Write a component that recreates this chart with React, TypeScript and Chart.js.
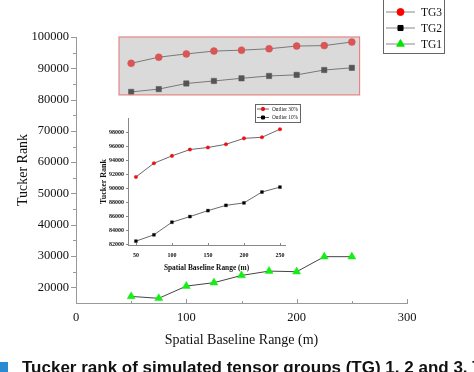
import React, { useEffect, useRef } from 'react';
import { Chart, registerables } from 'chart.js';
import { drawPoint } from 'chart.js/helpers';

Chart.register(...registerables);

const FONT = "'Liberation Serif', 'Times New Roman', serif";

// Data
const spatialRange = [50, 75, 100, 125, 150, 175, 200, 225, 250];
const tg3Values = [91600, 93550, 94600, 95500, 95800, 96250, 97100, 97250, 98400];
const tg2Values = [82450, 83350, 85150, 85950, 86800, 87550, 87900, 89450, 90150];
const tg1Values = [17100, 16500, 20400, 21500, 23800, 25200, 25000, 29800, 29800];

const seriesLabels = ['TG3', 'TG2', 'TG1'];
const insetLabels = ['Outlier 30%', 'Outlier 10%'];

const mainXTicks = [0, 100, 200, 300];
const mainXMinor = [50, 150, 250];
const mainYTicks = [20000, 30000, 40000, 50000, 60000, 70000, 80000, 90000, 100000];
const mainYMinor = [25000, 35000, 45000, 55000, 65000, 75000, 85000, 95000];
const insetXTicks = [50, 100, 150, 200, 250];
const insetYTicks = [82000, 84000, 86000, 88000, 90000, 92000, 94000, 96000, 98000];

const zoomRangeX = [39, 257];
const zoomRangeY = [81500, 100000];
const insetRangeY = [81900, 100000];

const xTitle = 'Spatial Baseline Range (m)';
const yTitle = 'Tucker Rank';
const captionText = 'Tucker rank of simulated tensor groups (TG) 1, 2 and 3. T';

const toPoints = (vals: number[]) => spatialRange.map((x, i) => ({ x, y: vals[i] }));
const plainLabel = (v: any) => String(v);

type Marker = { style: string; radius: number; color: string };

function drawLegendBox(
  ctx: CanvasRenderingContext2D,
  box: [number, number, number, number],
  items: { label: string; marker: Marker }[],
  rows: number[],
  lineX: [number, number],
  textX: number,
  fontSize: number,
  lineColor: string
) {
  ctx.save();
  ctx.fillStyle = '#ffffff';
  ctx.fillRect(box[0], box[1], box[2], box[3]);
  ctx.strokeStyle = '#666666';
  ctx.lineWidth = 1;
  ctx.strokeRect(box[0] + 0.5, box[1] + 0.5, box[2], box[3]);
  items.forEach((it, i) => {
    const y = rows[i];
    ctx.strokeStyle = lineColor;
    ctx.lineWidth = 1;
    ctx.beginPath();
    ctx.moveTo(lineX[0], y);
    ctx.lineTo(lineX[1], y);
    ctx.stroke();
    ctx.fillStyle = it.marker.color;
    ctx.strokeStyle = it.marker.color;
    drawPoint(ctx, { pointStyle: it.marker.style as any, radius: it.marker.radius, rotation: 0, borderWidth: 0.5 } as any, (lineX[0] + lineX[1]) / 2, y);
    ctx.fillStyle = '#111111';
    ctx.font = `${fontSize}px ${FONT}`;
    ctx.textBaseline = 'middle';
    ctx.textAlign = 'left';
    ctx.fillText(it.label, textX, y + 0.5);
  });
  ctx.restore();
}

function drawTickMarks(
  ctx: CanvasRenderingContext2D,
  chart: any,
  cfg: { xMajor: number[]; xMinor: number[]; yMajor: number[]; yMinor: number[]; xLen: number[]; yLen: number[]; color: string }
) {
  const { x, y } = chart.scales;
  const area = chart.chartArea;
  ctx.save();
  ctx.strokeStyle = cfg.color;
  ctx.lineWidth = 1;
  ctx.beginPath();
  cfg.xMajor.forEach((v) => {
    const px = Math.round(x.getPixelForValue(v)) + 0.5;
    ctx.moveTo(px, area.bottom);
    ctx.lineTo(px, area.bottom - cfg.xLen[0]);
  });
  cfg.xMinor.forEach((v) => {
    const px = Math.round(x.getPixelForValue(v)) + 0.5;
    ctx.moveTo(px, area.bottom);
    ctx.lineTo(px, area.bottom - cfg.xLen[1]);
  });
  cfg.yMajor.forEach((v) => {
    const py = Math.round(y.getPixelForValue(v)) + 0.5;
    ctx.moveTo(area.left, py);
    ctx.lineTo(area.left - cfg.yLen[0], py);
  });
  cfg.yMinor.forEach((v) => {
    const py = Math.round(y.getPixelForValue(v)) + 0.5;
    ctx.moveTo(area.left, py);
    ctx.lineTo(area.left - cfg.yLen[1], py);
  });
  ctx.stroke();
  ctx.restore();
}

export default function App() {
  const mainRef = useRef<HTMLCanvasElement>(null);
  const insetRef = useRef<HTMLCanvasElement>(null);

  useEffect(() => {
    const mainDecor = {
      id: 'mainDecor',
      afterDatasetsDraw(chart: any) {
        const { ctx, scales } = chart;
        const { x, y } = scales;
        const l = x.getPixelForValue(zoomRangeX[0]);
        const r = x.getPixelForValue(zoomRangeX[1]);
        const t = y.getPixelForValue(zoomRangeY[1]);
        const b = y.getPixelForValue(zoomRangeY[0]);
        ctx.save();
        ctx.fillStyle = 'rgba(177,177,177,0.48)';
        ctx.fillRect(l, t, r - l, b - t);
        ctx.strokeStyle = '#e38585';
        ctx.lineWidth = 1.2;
        ctx.strokeRect(l, t, r - l, b - t);
        ctx.restore();
      },
      afterDraw(chart: any) {
        const ctx = chart.ctx;
        drawTickMarks(ctx, chart, {
          xMajor: mainXTicks, xMinor: mainXMinor, yMajor: mainYTicks, yMinor: mainYMinor,
          xLen: [4, 2], yLen: [5, 3], color: '#999999',
        });
        drawLegendBox(
          ctx,
          [383, -1, 61, 54],
          [
            { label: seriesLabels[0], marker: { style: 'circle', radius: 3.5, color: '#ff0000' } },
            { label: seriesLabels[1], marker: { style: 'rect', radius: 3.6, color: '#000000' } },
            { label: seriesLabels[2], marker: { style: 'triangle', radius: 4.4, color: '#00e600' } },
          ],
          [12, 28, 44],
          [386, 415],
          421,
          11.5,
          '#888888'
        );
      },
    };

    const mainChart = new Chart(mainRef.current as HTMLCanvasElement, {
      type: 'line',
      data: {
        datasets: [
          {
            label: seriesLabels[0], data: toPoints(tg3Values), borderColor: '#444444', borderWidth: 1,
            pointStyle: 'circle', pointRadius: 3.5, pointBackgroundColor: '#ff0000', pointBorderColor: '#ff0000', pointBorderWidth: 0.5,
          },
          {
            label: seriesLabels[1], data: toPoints(tg2Values), borderColor: '#444444', borderWidth: 1,
            pointStyle: 'rect', pointRadius: 3.8, pointBackgroundColor: '#000000', pointBorderColor: '#000000', pointBorderWidth: 0.5,
          },
          {
            label: seriesLabels[2], data: toPoints(tg1Values), borderColor: '#444444', borderWidth: 1,
            pointStyle: 'triangle', pointRadius: 4.6, pointBackgroundColor: '#14ee14', pointBorderColor: '#14ee14', pointBorderWidth: 0.5,
          },
        ],
      },
      options: {
        animation: false,
        responsive: false,
        layout: { padding: { top: 37, right: 67, left: 0, bottom: 0 } },
        plugins: { legend: { display: false }, tooltip: { enabled: false } },
        scales: {
          x: {
            type: 'linear', min: 0, max: 300,
            afterBuildTicks: (s: any) => { s.ticks = mainXTicks.map((v) => ({ value: v })); },
            afterFit: (s: any) => { s.height = 69; },
            grid: { display: false, drawTicks: false },
            border: { display: true, color: '#999999', width: 1 },
            ticks: { padding: 7, color: '#111111', font: { family: FONT, size: 12.5 }, maxRotation: 0, callback: plainLabel },
            title: { display: true, text: xTitle, color: '#111111', font: { family: FONT, size: 14 }, padding: { top: 0, bottom: 23 } },
          },
          y: {
            type: 'linear', min: 15000, max: 100000,
            afterBuildTicks: (s: any) => { s.ticks = mainYTicks.map((v) => ({ value: v })); },
            afterFit: (s: any) => { s.width = 76; },
            grid: { display: false, drawTicks: false },
            border: { display: true, color: '#999999', width: 1 },
            ticks: { padding: 7, color: '#111111', font: { family: FONT, size: 12.5 }, callback: plainLabel },
            title: { display: true, text: yTitle, color: '#111111', font: { family: FONT, size: 14 }, padding: { top: 15, bottom: 0 } },
          },
        },
      },
      plugins: [mainDecor],
    } as any);

    const insetDecor = {
      id: 'insetDecor',
      afterDraw(chart: any) {
        const ctx = chart.ctx;
        drawTickMarks(ctx, chart, {
          xMajor: insetXTicks, xMinor: [], yMajor: insetYTicks, yMinor: [],
          xLen: [2, 1], yLen: [2, 1], color: '#888888',
        });
        drawLegendBox(
          ctx,
          [165, 4, 45, 18],
          [
            { label: insetLabels[0], marker: { style: 'circle', radius: 1.7, color: '#ee1111' } },
            { label: insetLabels[1], marker: { style: 'rect', radius: 2.1, color: '#000000' } },
          ],
          [9, 17.5],
          [167, 179],
          182,
          5.3,
          '#666666'
        );
      },
    };

    const insetChart = new Chart(insetRef.current as HTMLCanvasElement, {
      type: 'line',
      data: {
        datasets: [
          {
            label: insetLabels[0], data: toPoints(tg3Values), borderColor: '#444444', borderWidth: 0.8,
            pointStyle: 'circle', pointRadius: 1.8, pointBackgroundColor: '#ee1111', pointBorderColor: '#ee1111', pointBorderWidth: 0.3,
          },
          {
            label: insetLabels[1], data: toPoints(tg2Values), borderColor: '#444444', borderWidth: 0.8,
            pointStyle: 'rect', pointRadius: 2.1, pointBackgroundColor: '#000000', pointBorderColor: '#000000', pointBorderWidth: 0.3,
          },
        ],
      },
      options: {
        animation: false,
        responsive: false,
        layout: { padding: { top: 18, right: 20, left: 0, bottom: 0 } },
        plugins: { legend: { display: false }, tooltip: { enabled: false } },
        scales: {
          x: {
            type: 'linear', min: zoomRangeX[0], max: zoomRangeX[1],
            afterBuildTicks: (s: any) => { s.ticks = insetXTicks.map((v) => ({ value: v })); },
            afterFit: (s: any) => { s.height = 35; },
            grid: { display: false, drawTicks: false },
            border: { display: true, color: '#888888', width: 1 },
            ticks: { padding: 7, color: '#111111', font: { family: FONT, size: 6, weight: 'bold' }, maxRotation: 0, autoSkip: false, callback: plainLabel },
            title: { display: true, text: xTitle, color: '#111111', font: { family: FONT, size: 7.4, weight: 'bold' }, padding: { top: 0, bottom: 7.5 } },
          },
          y: {
            type: 'linear', min: insetRangeY[0], max: insetRangeY[1],
            afterBuildTicks: (s: any) => { s.ticks = insetYTicks.map((v) => ({ value: v })); },
            afterFit: (s: any) => { s.width = 38; },
            grid: { display: false, drawTicks: false },
            border: { display: true, color: '#888888', width: 1 },
            ticks: { padding: 4, color: '#111111', font: { family: FONT, size: 6, weight: 'bold' }, autoSkip: false, callback: plainLabel },
            title: { display: true, text: yTitle, color: '#111111', font: { family: FONT, size: 8, weight: 'bold' }, padding: { top: 9, bottom: 0 } },
          },
        },
      },
      plugins: [insetDecor],
    } as any);

    return () => {
      mainChart.destroy();
      insetChart.destroy();
    };
  }, []);

  return (
    <div style={{ position: 'fixed', left: 0, top: 0, width: 474, height: 372, overflow: 'hidden', background: '#ffffff' }}>
      <canvas ref={mainRef} width={474} height={372} style={{ position: 'absolute', left: 0, top: 0, width: 474, height: 372 }} />
      <canvas ref={insetRef} width={215} height={180} style={{ position: 'absolute', left: 90, top: 100, width: 215, height: 180 }} />
      <div style={{ position: 'absolute', left: 0, top: 362, width: 8, height: 10, background: '#2a8bd5' }} />
      <div
        style={{
          position: 'absolute', left: 22, top: 359, whiteSpace: 'nowrap', fontFamily: "'Liberation Sans', Arial, sans-serif",
          fontWeight: 'bold', fontSize: 17, lineHeight: '17px', color: '#111111',
        }}
      >
        {captionText}
      </div>
    </div>
  );
}
